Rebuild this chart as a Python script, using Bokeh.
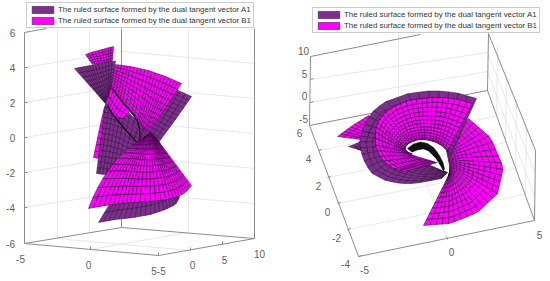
from bokeh.plotting import figure
from bokeh.models import Range1d, Legend, LegendItem, ColumnDataSource
from bokeh.layouts import row
from bokeh.embed import file_html
from bokeh.resources import INLINE
from bokeh.core.properties import value
import numpy as np

PURPLE = "#7E2F8E"
MAGENTA = "#FF00FF"
EDGE = "#2a0a30"
BOX = "#8c8c8c"
GRID = "#e8e8e8"
TXT = "#5f5f5f"
FONT = "Liberation Sans"
LEGEND_A = "The ruled surface formed by the dual tangent vector A1"
LEGEND_B = "The ruled surface formed by the dual tangent vector B1"

# ---- left panel: positions (image pixels)
L_box = [[(24,32),(24,243)],[(24,243),(158,255)],[(158,255),(254,238)],[(254,238),(121,227)],[(121,227),(24,243)],
         [(121,227),(121,28)],[(254,238),(254,28)],[(24,32),(46,28)]]
L_grid = [[(24,67),(121,51)],[(24,102),(121,86)],[(24,137),(121,121)],[(24,172),(121,156)],[(24,207),(121,192)],
          [(121,51),(254,63)],[(121,86),(254,98)],[(121,121),(254,133)],[(121,156),(254,168)],[(121,192),(254,203)],
          [(57,28),(57,238)],[(89,28),(89,232)],[(188,28),(188,232)],[(90,249),(187,232)],[(190,250),(56,238)]]
L_ticks = [[(24,243),(24,240)],[(90,249),(90,246)],[(158,255),(158,252)],[(190,250),(190,247)],[(222,244),(222,241)],[(254,238),(254,235)],
           [(24,67),(27,67)],[(24,102),(27,102)],[(24,137),(27,137)],[(24,172),(27,172)],[(24,207),(27,207)]]
L_labels = ["6","4","2","0","-2","-4","-6","-5","0","5-5","0","5","10"]
L_lab_x = [12,12,12,12,10,10,10,20,88,158,192,224,259]
L_lab_y = [32,67,102,137,172,207,243,258,264,270,264,259,253]

purple_right_a = [(173,88),(160,112),(147,135)]
purple_right_b = [(191,96),(175,119),(158,142)]
magenta_top_outer = [(85,54),(92,51.5),(100,49.5),(107,47.5),(113,46)]
magenta_top_inner = [(92,64),(97,63),(103,63),(108,62),(112,60)]
magenta_upper_outer = [(115,64),(130,66),(148,70),(165,76),(181,83)]
magenta_upper_inner = [(110,88),(122,102),(137,120),(143,130),(148,133)]
purple_upper_outer = [(74,68),(84,66),(93,64.5),(104,62),(115,60.5)]
purple_upper_inner = [(105,103),(105.5,102),(106,100),(108,96),(110,90)]
magenta_strip_a = [(104,106),(99,128),(93,157)]
magenta_strip_b = [(107,106),(103,128),(98,158)]
purple_centre_outer = [(96,173),(104,174),(112,174.5),(120,175),(135,165)]
purple_centre_inner = [(105,103),(115,105),(125,110),(137,120),(147,133)]
ribbon_a = [(110,88),(116,95),(122,102),(130,110)]
ribbon_b = [(106,103),(109,110),(114,116),(122,118)]
curve_a = [(112,88),(117,95),(122,102),(128,108),(133,114),(137,121),(139,128),(139.5,135),(138.5,142),(138,148)]
curve_b = [(107,105),(110,110),(113,115),(118,121),(124,128),(130,135),(134,139),(137,143)]
purple_cone_outer = [(98,222),(115,219),(133,217),(150,214),(165,209),(175,204),(179,197)]
purple_cone_inner = [(146,143),(147,141),(149,140),(151,139),(153,140),(155,141),(157,143)]
magenta_cone_outer = [(88,208),(105,205),(120,203),(133,202),(150,201),(167,199),(178,196),(186,191),(191,185)]
magenta_cone_inner = [(145,136),(146,135),(147,134),(148,133),(149,132),(150,132),(151,133),(153,135),(156,138)]
magenta_cone_bulge = [(-5,-7),(-3,-5),(-2,-3),(-1,-1),(0,0),(0,0),(0,0),(0,0),(0,0)]

# ---- right panel
R_box = [[(309,125),(358,256)],[(358,256),(534,220)],[(534,220),(487,90)],[(487,90),(309,125)],
         [(310,56),(309,125)],[(487,90),(488,33)],[(534,220),(535,150)],[(488,33),(535,150)],[(310,56),(420,34)]]
R_grid = [[(318,150),(495,116)],[(327,177),(505,142)],[(337,203),(514,168)],[(347,229),(524,194)],[(447,239),(398,107)],
          [(309,79),(487,52)],[(309,102),(487,71)],[(398,107),(398,33)],[(487,71),(534.5,197)],[(487,52),(534.8,173)],
          [(496,116),(497,45)],[(505,142),(506,75)],[(515,168),(516,100)],[(525,194),(526,125)]]
R_ticks = [[(318,150),(321,149)],[(327,177),(330,176)],[(337,203),(340,202)],[(347,229),(350,228)],[(358,256),(361,255)],
           [(447,239),(446,236)],[(310,79),(313,78)],[(310,102),(313,101)]]
R_labels = ["10","5","0","-5","6","4","2","0","-2","-4","-5","0","5"]
R_lab_x = [303,304,304,303,299,308,318,327,336,345,364,451,539]
R_lab_y = [50,73,95,118,132,158,185,211,237,263,269,251,234]

tip_m_outer = [(368,115),(352,125),(337,136)]
tip_m_inner = [(380,125),(372,134),(360,139)]
tip_p_outer = [(360,141),(354,144),(348,146)]
tip_p_inner = [(368,150),(365,152),(361,150)]
fan_outer = [(468,118),(490,137),(503,167),(497,193),(477,212),(450,223),(423,225)]
fan_inner = [(446,150),(447,155),(448,160),(449,165),(449,168),(449,171),(449,173)]
ring_outer = [(476,98),(455,92),(432,90),(408,93),(383,102),(370,113),(362,130),(359,142),(362,157),(370,172),(385,180),(400,183),(415,183),(441,178)]
ring_inner = [(450,155),(443,146),(436,142),(430,140),(424,139),(418,139),(412,141),(408,143),(405,146),(405,150),(410,155),(420,160),(432,166),(447,172)]
disc_outer = [(472,103),(458,99),(445,97),(432,97),(420,98),(408,100),(395,105),(385,112),(378,120),(375,130),(375,145),(380,158),(392,168),(405,171)]
disc_inner = [(447,150),(441,145),(436,142),(430,140),(424,139),(418,139),(412,141),(408,143),(405,146),(404,149),(408,152),(416,155),(428,159),(437,162)]
hole = [(412,152),(417,150),(423,149),(428,151),(432,155),(435,158),(438,163),(440,166),(442,170),(437,166),(438,162),(432,160),(425,158),(418,156),(412,154)]
crescent = [(407,148),(413,143.5),(420,141.5),(427,143),(433,147),(437,152),(440,157),(442.5,162),(444,168),(443,171),(441,170),(440,166),(438,163),(435,158),(432,155),(428,151),(423,149),(417,150),(412,152)]


def rail(points, n):
    pts = np.array(points, float)
    t = np.linspace(0, len(pts) - 1, n + 1)
    idx = np.arange(len(pts))
    return np.column_stack([np.interp(t, idx, pts[:, 0]), np.interp(t, idx, pts[:, 1])])


def mesh(outer, inner, nu, nv, power=1.0, bulge=None):
    a = rail(outer, nu)
    b = rail(inner, nu)
    c = rail(bulge, nu) if bulge else np.zeros_like(a)
    s = (np.arange(nv + 1) / nv) ** power      # 0 at inner rail, 1 at outer rail
    xs, ys = [], []
    for i in range(nu):
        for j in range(nv):
            q = [(i, j), (i + 1, j), (i + 1, j + 1), (i, j + 1)]
            pts = [b[u] + (a[u] - b[u]) * s[v] + c[u] * 4 * s[v] * (1 - s[v]) for u, v in q]
            xs.append([p[0] for p in pts])
            ys.append([p[1] for p in pts])
    return ColumnDataSource(dict(xs=xs, ys=ys))


def draw(p, outer, inner, nu, nv, color, power=1.0, bulge=None):
    return p.patches("xs", "ys", source=mesh(outer, inner, nu, nv, power, bulge), fill_color=color,
                     line_color=EDGE, line_width=0.55, line_alpha=0.9)


def lines(p, segs, color, width):
    p.multi_line([[a[0], b[0]] for a, b in segs], [[a[1], b[1]] for a, b in segs],
                 line_color=color, line_width=width)


def panel(x0, x1, segs_grid, segs_box, segs_ticks, labels, lx, ly):
    p = figure(width=x1 - x0, height=281, x_range=Range1d(x0, x1), y_range=Range1d(281, 0),
               toolbar_location=None, output_backend="svg", min_border=0,
               x_axis_location=None, y_axis_location=None, outline_line_color=None)
    p.grid.visible = False
    lines(p, segs_grid, GRID, 1)
    lines(p, segs_box, BOX, 1)
    lines(p, segs_ticks, BOX, 1)
    p.text(lx, ly, text=labels, text_font=value(FONT), text_font_size="10px", text_color=TXT,
           text_align="center", text_baseline="middle")
    return p


def legend(p, r_a, r_b, x, y):
    leg = Legend(items=[LegendItem(label=LEGEND_A, renderers=[r_a]), LegendItem(label=LEGEND_B, renderers=[r_b])],
                 location=(x, y), label_text_font=FONT, label_text_font_size="7.9px", label_text_color="#333333",
                 glyph_width=27, glyph_height=9, label_height=9, spacing=2, padding=2, margin=0,
                 label_standoff=2, border_line_color="#9a9a9a", background_fill_alpha=1)
    p.add_layout(leg)


left = panel(0, 275, L_grid, L_box, L_ticks, L_labels, L_lab_x, L_lab_y)
r_a = draw(left, purple_right_b, purple_right_a, 12, 3, PURPLE)
draw(left, magenta_top_outer, magenta_top_inner, 9, 5, MAGENTA)
r_b = draw(left, magenta_upper_outer, magenta_upper_inner, 20, 11, MAGENTA, 1.3)
draw(left, purple_upper_outer, purple_upper_inner, 13, 10, PURPLE, 1.3)
draw(left, magenta_strip_b, magenta_strip_a, 9, 1, MAGENTA)
draw(left, purple_centre_outer, purple_centre_inner, 10, 13, PURPLE, 1.1)
draw(left, ribbon_a, ribbon_b, 7, 2, MAGENTA)
left.line([p[0] for p in curve_a], [p[1] for p in curve_a], line_color="#111111", line_width=1.2)
left.line([p[0] for p in curve_b], [p[1] for p in curve_b], line_color="#111111", line_width=1.2)
draw(left, purple_cone_outer, purple_cone_inner, 20, 12, PURPLE, 1.5)
draw(left, magenta_cone_outer, magenta_cone_inner, 26, 13, MAGENTA, 1.5, magenta_cone_bulge)
legend(left, r_a, r_b, 26, 253)

right = panel(275, 550, R_grid, R_box, R_ticks, R_labels, R_lab_x, R_lab_y)
draw(right, tip_p_outer, tip_p_inner, 3, 3, PURPLE)
draw(right, tip_m_outer, tip_m_inner, 9, 4, MAGENTA)
draw(right, fan_outer, fan_inner, 26, 12, MAGENTA, 1.4)
ra = draw(right, ring_outer, ring_inner, 30, 11, PURPLE, 1.5)
rb = draw(right, disc_outer, disc_inner, 30, 13, MAGENTA, 1.5)
right.patch([p[0] for p in crescent], [p[1] for p in crescent], fill_color="#111111", line_color="#111111", line_width=0.5)
right.patch([p[0] for p in hole], [p[1] for p in hole], fill_color="#ffffff", line_color="#ffffff", line_width=0.5)
legend(right, ra, rb, 37, 248)

page = row(left, right)
open("out.html", "w").write(file_html(page, INLINE))
